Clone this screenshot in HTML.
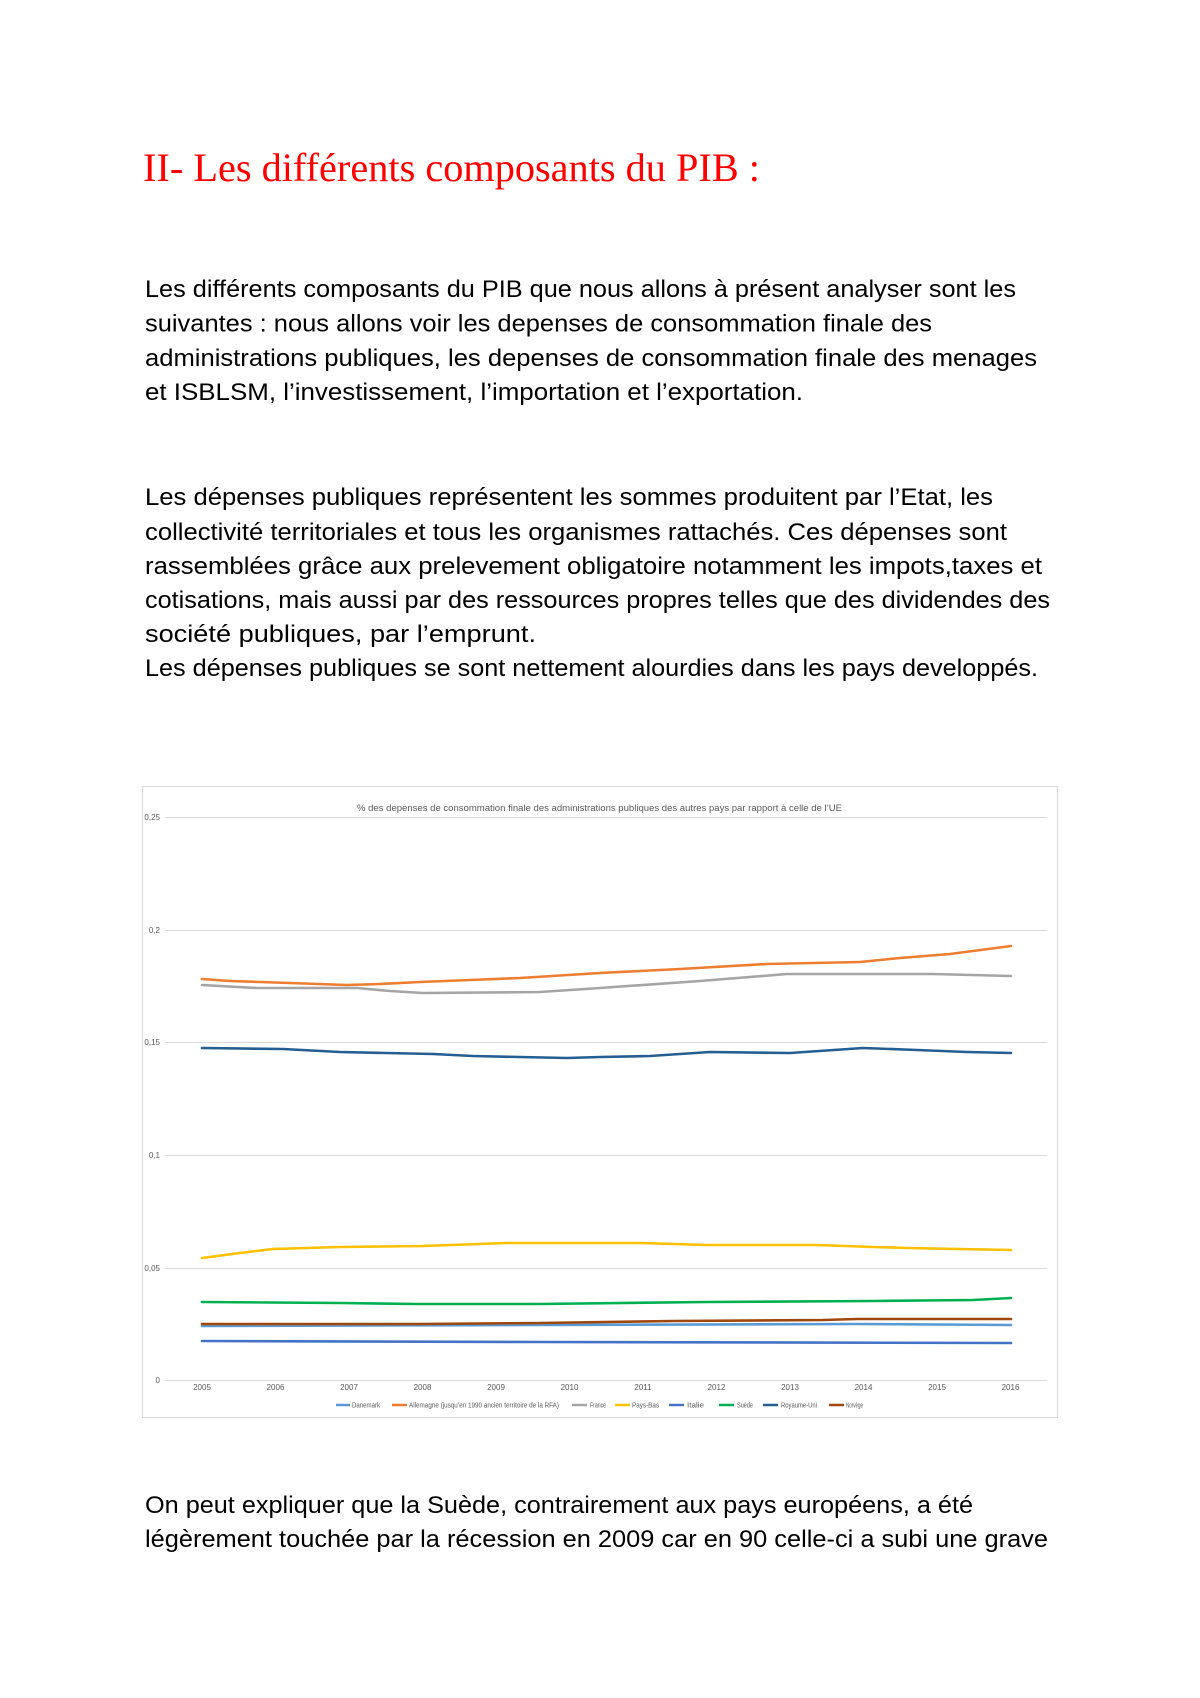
<!DOCTYPE html>
<html>
<head>
<meta charset="utf-8">
<style>
  html,body{margin:0;padding:0;background:#fff;}
  body{width:1200px;height:1698px;overflow:hidden;}
  svg{display:block;}
  .b{font-family:"Liberation Sans",sans-serif;font-size:24px;fill:#000;}
  .h{font-family:"Liberation Serif",serif;font-size:40px;fill:#ff0000;}
  .c{font-family:"Liberation Sans",sans-serif;fill:#595959;}
</style>
</head>
<body>
<svg width="1200" height="1698" viewBox="0 0 1200 1698" xmlns="http://www.w3.org/2000/svg">
  <rect x="0" y="0" width="1200" height="1698" fill="#ffffff"/>

  <!-- Heading -->
  <text class="h" x="143" y="181" textLength="617" lengthAdjust="spacingAndGlyphs">II- Les différents composants du PIB :</text>

  <!-- Paragraph 1 -->
  <text class="b" x="145" y="297" textLength="871" lengthAdjust="spacingAndGlyphs">Les différents composants du PIB que nous allons à présent analyser sont les</text>
  <text class="b" x="145" y="331.5" textLength="787" lengthAdjust="spacingAndGlyphs">suivantes : nous allons voir les depenses de consommation finale des</text>
  <text class="b" x="145" y="366" textLength="892" lengthAdjust="spacingAndGlyphs">administrations publiques, les depenses de consommation finale des menages</text>
  <text class="b" x="145" y="400" textLength="658" lengthAdjust="spacingAndGlyphs">et ISBLSM, l’investissement, l’importation et l’exportation.</text>

  <!-- Paragraph 2 -->
  <text class="b" x="145" y="505" textLength="848" lengthAdjust="spacingAndGlyphs">Les dépenses publiques représentent les sommes produitent par l’Etat, les</text>
  <text class="b" x="145" y="540" textLength="862" lengthAdjust="spacingAndGlyphs">collectivité territoriales et tous les organismes rattachés. Ces dépenses sont</text>
  <text class="b" x="145" y="574" textLength="897" lengthAdjust="spacingAndGlyphs">rassemblées grâce aux prelevement obligatoire notamment les impots,taxes et</text>
  <text class="b" x="145" y="608" textLength="905" lengthAdjust="spacingAndGlyphs">cotisations, mais aussi par des ressources propres telles que des dividendes des</text>
  <text class="b" x="145" y="642" textLength="391" lengthAdjust="spacingAndGlyphs">société publiques, par l’emprunt.</text>
  <text class="b" x="145" y="676" textLength="893" lengthAdjust="spacingAndGlyphs">Les dépenses publiques se sont nettement alourdies dans les pays developpés.</text>

  <!-- Chart frame -->
  <rect x="142.5" y="786.5" width="915" height="631" fill="#ffffff" stroke="#d9d9d9" stroke-width="1"/>

  <!-- Chart title -->
  <text class="c" x="357" y="811" font-size="9" fill="#8a8a8a" textLength="485" lengthAdjust="spacingAndGlyphs">% des depenses de consommation finale des administrations publiques des autres pays par rapport à celle de l’UE</text>

  <!-- Gridlines -->
  <g stroke="#d9d9d9" stroke-width="1">
    <line x1="165" y1="817.5" x2="1047" y2="817.5"/>
    <line x1="165" y1="930.5" x2="1047" y2="930.5"/>
    <line x1="165" y1="1042.5" x2="1047" y2="1042.5"/>
    <line x1="165" y1="1155.5" x2="1047" y2="1155.5"/>
    <line x1="165" y1="1268.5" x2="1047" y2="1268.5"/>
    <line x1="165" y1="1380.5" x2="1047" y2="1380.5"/>
  </g>

  <!-- Y labels -->
  <g class="c" font-size="8" text-anchor="end">
    <text x="160" y="820">0,25</text>
    <text x="160" y="933">0,2</text>
    <text x="160" y="1045">0,15</text>
    <text x="160" y="1158">0,1</text>
    <text x="160" y="1271">0,05</text>
    <text x="160" y="1383">0</text>
  </g>

  <!-- X labels -->
  <g class="c" font-size="8" text-anchor="middle">
    <text x="202" y="1390">2005</text>
    <text x="275.5" y="1390">2006</text>
    <text x="349" y="1390">2007</text>
    <text x="422.5" y="1390">2008</text>
    <text x="496" y="1390">2009</text>
    <text x="569.5" y="1390">2010</text>
    <text x="643" y="1390">2011</text>
    <text x="716.5" y="1390">2012</text>
    <text x="790" y="1390">2013</text>
    <text x="863.5" y="1390">2014</text>
    <text x="937" y="1390">2015</text>
    <text x="1010.5" y="1390">2016</text>
  </g>

  <!-- Series -->
  <g fill="none" stroke-width="2.6" stroke-linejoin="round" stroke-linecap="round">
    <polyline stroke="#5B9BD5" points="202,1326 540,1325 857,1324 1011,1325"/>
    <polyline stroke="#ED7D31" points="202,979 230,981 260,982 290,983 347,985 380,984 420,982 470,980 520,978 600,973 680,969 767,964 860,962 900,958 950,954 1011,946"/>
    <polyline stroke="#A5A5A5" points="202,985 257,988 357,988 390,991 423,993 540,992 600,988 700,981 787,974 933,974 1011,976"/>
    <polyline stroke="#FFC000" points="202,1258 240,1253 273,1249 340,1247 423,1246 507,1243 640,1243 707,1245 817,1245 873,1247 907,1248 1011,1250"/>
    <polyline stroke="#4472C4" points="202,1341 540,1342 1011,1343"/>
    <polyline stroke="#00B050" points="202,1302 340,1303 417,1304 540,1304 707,1302 873,1301 973,1300 1011,1298"/>
    <polyline stroke="#255E91" points="202,1048 283,1049 340,1052 433,1054 473,1056 567,1058 600,1057 650,1056 710,1052 790,1053 863,1048 917,1050 967,1052 1011,1053"/>
    <polyline stroke="#9E480E" points="202,1324 417,1324 540,1323 673,1321 823,1320 857,1319 1011,1319"/>
  </g>

  <!-- Legend -->
  <g stroke-width="2.5">
    <line x1="336" y1="1405" x2="350" y2="1405" stroke="#5B9BD5"/>
    <line x1="392" y1="1405" x2="407" y2="1405" stroke="#ED7D31"/>
    <line x1="572" y1="1405" x2="587" y2="1405" stroke="#A5A5A5"/>
    <line x1="615" y1="1405" x2="630" y2="1405" stroke="#FFC000"/>
    <line x1="669" y1="1405" x2="684" y2="1405" stroke="#4472C4"/>
    <line x1="719" y1="1405" x2="734" y2="1405" stroke="#00B050"/>
    <line x1="763" y1="1405" x2="778" y2="1405" stroke="#255E91"/>
    <line x1="829" y1="1405" x2="844" y2="1405" stroke="#9E480E"/>
  </g>
  <g class="c" font-size="7">
    <text x="352" y="1407.5" textLength="28" lengthAdjust="spacingAndGlyphs">Danemark</text>
    <text x="409" y="1407.5" textLength="150" lengthAdjust="spacingAndGlyphs">Allemagne (jusqu’en 1990 ancien territoire de la RFA)</text>
    <text x="590" y="1407.5" textLength="16" lengthAdjust="spacingAndGlyphs">France</text>
    <text x="632" y="1407.5" textLength="27" lengthAdjust="spacingAndGlyphs">Pays-Bas</text>
    <text x="687" y="1407.5" textLength="17" lengthAdjust="spacingAndGlyphs">Italie</text>
    <text x="737" y="1407.5" textLength="16" lengthAdjust="spacingAndGlyphs">Suède</text>
    <text x="781" y="1407.5" textLength="36" lengthAdjust="spacingAndGlyphs">Royaume-Uni</text>
    <text x="846" y="1407.5" textLength="17" lengthAdjust="spacingAndGlyphs">Norvège</text>
  </g>

  <!-- Bottom paragraph -->
  <text class="b" x="145" y="1513" textLength="828" lengthAdjust="spacingAndGlyphs">On peut expliquer que la Suède, contrairement aux pays européens, a été</text>
  <text class="b" x="145" y="1547" textLength="903" lengthAdjust="spacingAndGlyphs">légèrement touchée par la récession en 2009 car en 90 celle-ci a subi une grave</text>
</svg>
</body>
</html>
